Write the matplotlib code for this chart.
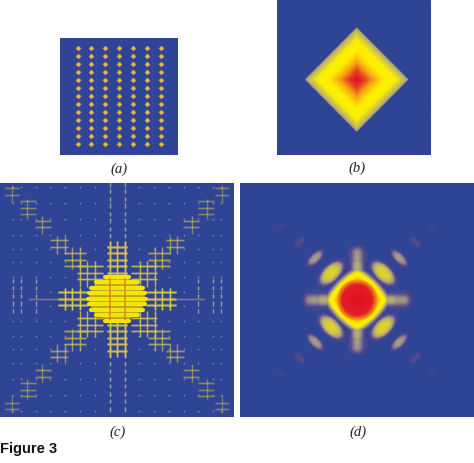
import numpy as np
import matplotlib
matplotlib.use('Agg')
import matplotlib.pyplot as plt
from matplotlib.colors import LinearSegmentedColormap
from matplotlib.patches import Ellipse

# panel boxes in pixels: left, top, right, bottom
box_a = (60, 38, 178, 155)
box_b = (277, 0, 431, 155)
box_c = (0, 183, 234, 417)
box_d = (240, 183, 474, 417)
panel_labels = ['(a)', '(b)', '(c)', '(d)']
label_xy = [(119, 169), (357, 168), (118, 432), (358, 432)]
caption = 'Figure 3'

BLUE = '#2f4494'
heat = LinearSegmentedColormap.from_list('heat', [
    (0.0, BLUE), (0.08, '#5a4a8c'), (0.22, '#a39c88'), (0.38, '#d8cf35'),
    (0.46, '#fff000'), (0.72, '#f5a012'), (1.0, '#e00f26')])

# (a) dot rows and columns, pixels
a_cols = [77.7, 91.3, 105.3, 119, 133, 146.7, 160.7]
a_rows = [48.3, 56.3, 64.3, 72, 80, 88, 96, 103.7, 111.7, 119.7, 127.7, 135.7, 143.7]

# (b) level against distance from centre along the axis
b_dist = [0, 8, 16, 24, 30, 40, 48, 51.5, 52.5]
b_level = [1.0, 0.92, 0.75, 0.56, 0.46, 0.45, 0.33, 0.2, 0.0]

# (c) centre bands: row offset, half length
c_rows = [-22, -16.5, -11, -5.5, 0, 5.5, 11, 16.5, 22]
c_row_len = [12, 21, 26, 28, 29, 28, 26, 21, 12]
# (c) hatch patches: dx, dy, half width, half height, strength
c_patches = [
    (27, 25, 13, 13, 0.85), (42, 41, 11, 11, 0.7), (58, 54, 9, 9, 0.6),
    (74, 74, 8, 9, 0.5), (89, 90, 8, 10, 0.45), (105, 105, 7, 9, 0.4),
    (0, 39, 10, 19, 0.8), (44, 0, 15, 11, 0.8),
]
c_dot_x = [7.5, 22, 37, 52, 67, 81, 96, 104]
c_dot_y = [7, 22, 37, 50, 64, 80, 96, 112]
c_strand_x = [7.5, 81, 96, 104]
c_strand_y = [115, 18, 18, 18]

# (d) centre profile against distance
d_dist = [0, 14, 20, 24, 28, 31, 35]
d_level = [1.0, 0.95, 0.72, 0.47, 0.44, 0.2, 0.0]
d_core_dist = [0, 15, 20, 23]
d_core_level = [1.0, 0.97, 0.72, 0.0]
# (d) lobes: dx, dy, half long, half short, level
d_lobes = [
    (26, 27, 14, 7.5, 0.39), (42, 42, 10, 4.5, 0.22),
    (58, 58, 7, 3.5, 0.07), (75, 73, 6, 3, 0.03),
]
d_arm_pos = [43, 33]
d_arm_len = [10, 8]
d_arm_wid = [6.5, 6.0]
d_arm_level = [0.22, 0.28]

fig = plt.figure(figsize=(4.74, 4.63), dpi=100)
W, H = 474, 463


def panel(box):
    l, t, r, b = box
    ax = fig.add_axes([l / W, 1 - b / H, (r - l) / W, (b - t) / H])
    ax.set_xticks([])
    ax.set_yticks([])
    for s in ax.spines.values():
        s.set_visible(False)
    ax.set_facecolor(BLUE)
    return ax


def offsets(box, cx, cy):
    l, t, r, b = box
    x = np.arange(l, r) + 0.5 - cx
    y = np.arange(t, b) + 0.5 - cy
    return np.meshgrid(x, y)


def soft_h(ax, ys, x0, x1, color, alpha):
    # soft edge, the scan is blurry
    ax.hlines(ys, x0, x1, color=color, lw=2.2, alpha=alpha * 0.3)
    ax.hlines(ys, x0, x1, color=color, lw=0.9, alpha=alpha)


def soft_v(ax, xs, y0, y1, color, alpha):
    ax.vlines(xs, y0, y1, color=color, lw=2.0, alpha=alpha * 0.25)
    ax.vlines(xs, y0, y1, color=color, lw=0.7, alpha=alpha * 0.9)


# panel a
ax = panel(box_a)
ax.set_xlim(box_a[0], box_a[2])
ax.set_ylim(box_a[3], box_a[1])
px, py = np.meshgrid(a_cols, a_rows)
ax.scatter(px, py, s=9, color='#a89a60', marker='D', linewidths=0)
ax.scatter(px, py, s=6, color='#f7b62a', marker='o', linewidths=0)

# panel b
ax = panel(box_b)
X, Y = offsets(box_b, 356.7, 80)
ax.imshow(np.interp(abs(X) + abs(Y), b_dist, b_level), cmap=heat, vmin=0, vmax=1,
          interpolation='bilinear', aspect='auto')

# panel c
ax = panel(box_c)
cx, cy = 117, 299
ax.set_xlim(box_c[0] - cx, box_c[2] - cx)
ax.set_ylim(box_c[3] - cy, box_c[1] - cy)
signs = [-1, 1]
for dx in c_dot_x:
    for dy in c_dot_y:
        for sx in signs:
            for sy in signs:
                ax.plot(sx * dx, sy * dy, 's', ms=1.1, color='#9aa6c8', mew=0, alpha=0.7)
for sx_val, half in zip(c_strand_x, c_strand_y):
    for sx in signs:
        ys = np.arange(-half, half + 1, 7.5)
        soft_v(ax, [sx * sx_val] * len(ys), ys - 2, ys + 2, '#b9b6a0', 0.8)
soft_h(ax, [0], -88, 88, '#b0a070', 0.5)
for dx, dy, hw, hh, st in c_patches:
    for sx in signs:
        for sy in signs:
            x0, y0 = sx * dx, sy * dy
            # keep strands inside so the ends stick out like a hash
            rows = np.arange(np.ceil((y0 - hh + 2) / 6.5), np.floor((y0 + hh - 2) / 6.5) + 1) * 6.5
            cols = np.arange(np.ceil((x0 - hw + 2) / 7.5), np.floor((x0 + hw - 2) / 7.5) + 1) * 7.5
            soft_h(ax, rows, x0 - hw, x0 + hw, '#d2c048', st)
            soft_v(ax, cols, y0 - hh, y0 + hh, '#d8c850', st)
ax.add_patch(Ellipse((0, 0), 56, 44, color='#b8a420', lw=0))
ax.hlines(c_rows, -np.array(c_row_len), c_row_len, color='#f4e40a', lw=3.0, capstyle='round')
ax.vlines([-7.5, 7.5], -21, 21, color='#d8791a', lw=1.1, alpha=0.85)

# panel d
ax = panel(box_d)
X, Y = offsets(box_d, 357.3, 300)
outer = (abs(X) ** 1.3 + abs(Y) ** 1.3) ** (1 / 1.3)
field = np.interp(outer, d_dist, d_level)
field = np.maximum(field, np.interp(np.hypot(X, Y), d_core_dist, d_core_level))
for dx, dy, hl, hs, lev in d_lobes:
    # long side runs across the diagonal, so each quadrant has its own
    u = (abs(X) + abs(Y) - dx - dy) / np.sqrt(2)
    v = (abs(X) - abs(Y) - dx + dy) / np.sqrt(2)
    field = np.maximum(field, lev * np.exp(-((u / hs) ** 2 + (v / hl) ** 2) ** 2))
for pos, alen, wid, lev in zip(d_arm_pos, d_arm_len, d_arm_wid, d_arm_level):
    field = np.maximum(field, lev * np.exp(-((abs(X) - pos) / alen) ** 4 - (Y / wid) ** 2))
    field = np.maximum(field, lev * np.exp(-((abs(Y) - pos) / alen) ** 4 - (X / wid) ** 2))
ax.imshow(field, cmap=heat, vmin=0, vmax=1, interpolation='bilinear', aspect='auto')

for txt, (x, y) in zip(panel_labels, label_xy):
    fig.text(x / W, 1 - y / H, txt, family='Liberation Serif', style='italic',
             fontsize=10.5, color='#222222', ha='center', va='center')
fig.text(0, 1 - 449.5 / H, caption, family='Liberation Sans', weight='bold',
         fontsize=10.5, color='#111111', ha='left', va='center')

fig.savefig('out.png', dpi=100)
